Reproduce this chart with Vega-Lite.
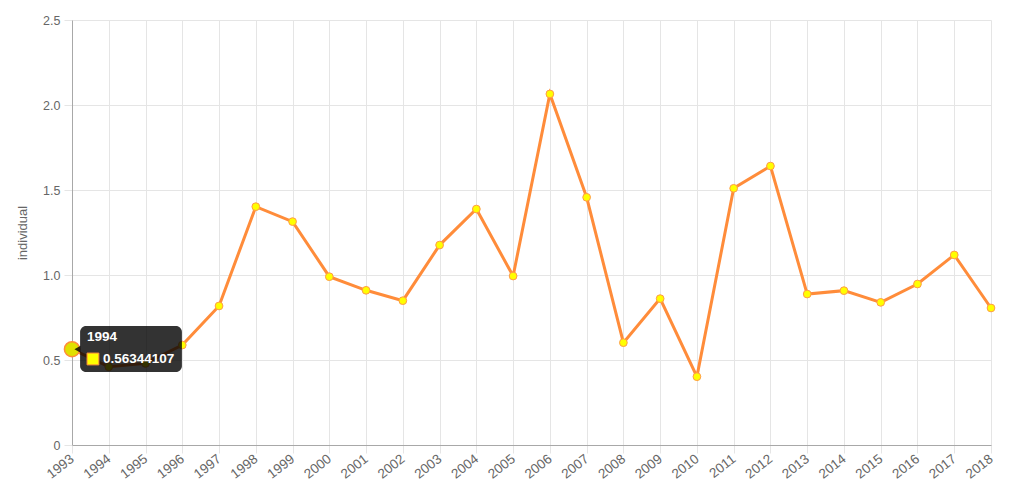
{
  "$schema": "https://vega.github.io/schema/vega-lite/v6.json",
  "width": 919,
  "height": 425,
  "autosize": {"type": "none"},
  "padding": {"left": 72, "top": 20, "right": 26, "bottom": 53},
  "background": "white",
  "config": {
    "view": {"stroke": null},
    "font": "Liberation Sans",
    "axisX": {
      "labelAngle": -38,
      "labelAlign": "right",
      "labelBaseline": "middle",
      "labelFontSize": 13.5,
      "labelColor": "#666666",
      "labelPadding": 4,
      "labelOverlap": false,
      "labelFlush": false,
      "tickCount": 26,
      "tickSize": 8,
      "tickColor": "#e5e5e5",
      "gridColor": "#e5e5e5",
      "domainColor": "#a8a8a8",
      "grid": true
    },
    "axisY": {
      "titleFontSize": 13,
      "titleFontWeight": "normal",
      "titleColor": "#666666",
      "titleX": -43,
      "tickCount": 5,
      "labelFontSize": 12.5,
      "labelColor": "#666666",
      "labelPadding": 4,
      "tickSize": 8,
      "tickColor": "#e5e5e5",
      "gridColor": "#e5e5e5",
      "domainColor": "#a8a8a8",
      "grid": true
    }
  },
  "datasets": {
    "main": [
      {"year": 1993, "individual": 0.56344107},
      {"year": 1994, "individual": 0.46},
      {"year": 1995, "individual": 0.48},
      {"year": 1996, "individual": 0.588},
      {"year": 1997, "individual": 0.818},
      {"year": 1998, "individual": 1.402},
      {"year": 1999, "individual": 1.314},
      {"year": 2000, "individual": 0.99},
      {"year": 2001, "individual": 0.91},
      {"year": 2002, "individual": 0.849},
      {"year": 2003, "individual": 1.176},
      {"year": 2004, "individual": 1.388},
      {"year": 2005, "individual": 0.994},
      {"year": 2006, "individual": 2.065},
      {"year": 2007, "individual": 1.457},
      {"year": 2008, "individual": 0.602},
      {"year": 2009, "individual": 0.861},
      {"year": 2010, "individual": 0.402},
      {"year": 2011, "individual": 1.51},
      {"year": 2012, "individual": 1.641},
      {"year": 2013, "individual": 0.888},
      {"year": 2014, "individual": 0.908},
      {"year": 2015, "individual": 0.839},
      {"year": 2016, "individual": 0.947},
      {"year": 2017, "individual": 1.118},
      {"year": 2018, "individual": 0.806}
    ],
    "tip": [
      {"year": 1993, "title": "1994", "individual": 0.56344107, "label": "0.56344107"}
    ]
  },
  "layer": [
    {
      "data": {"name": "main"},
      "mark": {"type": "line", "color": "#ff8c3a", "strokeWidth": 3},
      "encoding": {
        "x": {
          "field": "year",
          "type": "quantitative",
          "scale": {"domain": [1993, 2018], "nice": false, "zero": false},
          "axis": {"title": null, "format": "d"}
        },
        "y": {
          "field": "individual",
          "type": "quantitative",
          "scale": {"domain": [0, 2.5], "nice": false},
          "axis": {"title": "individual", "labelExpr": "datum.value == 0 ? '0' : format(datum.value, '.1f')"}
        }
      }
    },
    {
      "data": {"name": "main"},
      "mark": {"type": "point", "shape": "circle", "filled": true, "fill": "#ffff00", "stroke": "#ff9a4a", "strokeWidth": 1, "size": 60, "opacity": 1},
      "encoding": {
        "x": {"field": "year", "type": "quantitative", "axis": {"title": null, "format": "d"}},
        "y": {"field": "individual", "type": "quantitative", "axis": {"title": "individual", "labelExpr": "datum.value == 0 ? '0' : format(datum.value, '.1f')"}}
      }
    },
    {
      "data": {"name": "tip"},
      "mark": {"type": "point", "shape": "circle", "filled": true, "fill": "#e0e000", "stroke": "#ff8c3a", "strokeWidth": 1.5, "size": 230, "opacity": 1},
      "encoding": {
        "x": {"field": "year", "type": "quantitative", "axis": {"title": null, "format": "d"}},
        "y": {"field": "individual", "type": "quantitative", "axis": {"title": "individual", "labelExpr": "datum.value == 0 ? '0' : format(datum.value, '.1f')"}}
      }
    },
    {
      "data": {"name": "tip"},
      "mark": {"type": "rect", "color": "#000000", "opacity": 0.8, "cornerRadius": 6},
      "encoding": {
        "x": {"datum": 1993.22, "type": "quantitative", "axis": {"title": null, "format": "d"}},
        "x2": {"datum": 1995.99},
        "y": {"datum": 0.7, "type": "quantitative", "axis": {"title": "individual", "labelExpr": "datum.value == 0 ? '0' : format(datum.value, '.1f')"}},
        "y2": {"datum": 0.43}
      }
    },
    {
      "data": {"name": "tip"},
      "mark": {"type": "point", "shape": "triangle-left", "filled": true, "color": "#000000", "opacity": 0.8, "size": 50},
      "encoding": {
        "x": {"datum": 1993.15, "type": "quantitative", "axis": {"title": null, "format": "d"}},
        "y": {"field": "individual", "type": "quantitative", "axis": {"title": "individual", "labelExpr": "datum.value == 0 ? '0' : format(datum.value, '.1f')"}}
      }
    },
    {
      "data": {"name": "tip"},
      "mark": {"type": "text", "align": "left", "baseline": "middle", "color": "#ffffff", "fontWeight": "bold", "fontSize": 13.5},
      "encoding": {
        "x": {"datum": 1993.41, "type": "quantitative", "axis": {"title": null, "format": "d"}},
        "y": {"datum": 0.635, "type": "quantitative", "axis": {"title": "individual", "labelExpr": "datum.value == 0 ? '0' : format(datum.value, '.1f')"}},
        "text": {"field": "title"}
      }
    },
    {
      "data": {"name": "tip"},
      "mark": {"type": "point", "shape": "square", "filled": true, "fill": "#ffff00", "stroke": "#ff8c3a", "strokeWidth": 1, "size": 140, "opacity": 1},
      "encoding": {
        "x": {"datum": 1993.57, "type": "quantitative", "axis": {"title": null, "format": "d"}},
        "y": {"datum": 0.506, "type": "quantitative", "axis": {"title": "individual", "labelExpr": "datum.value == 0 ? '0' : format(datum.value, '.1f')"}}
      }
    },
    {
      "data": {"name": "tip"},
      "mark": {"type": "text", "align": "left", "baseline": "middle", "color": "#ffffff", "fontWeight": "bold", "fontSize": 13.5},
      "encoding": {
        "x": {"datum": 1993.84, "type": "quantitative", "axis": {"title": null, "format": "d"}},
        "y": {"datum": 0.506, "type": "quantitative", "axis": {"title": "individual", "labelExpr": "datum.value == 0 ? '0' : format(datum.value, '.1f')"}},
        "text": {"field": "label"}
      }
    }
  ]
}
